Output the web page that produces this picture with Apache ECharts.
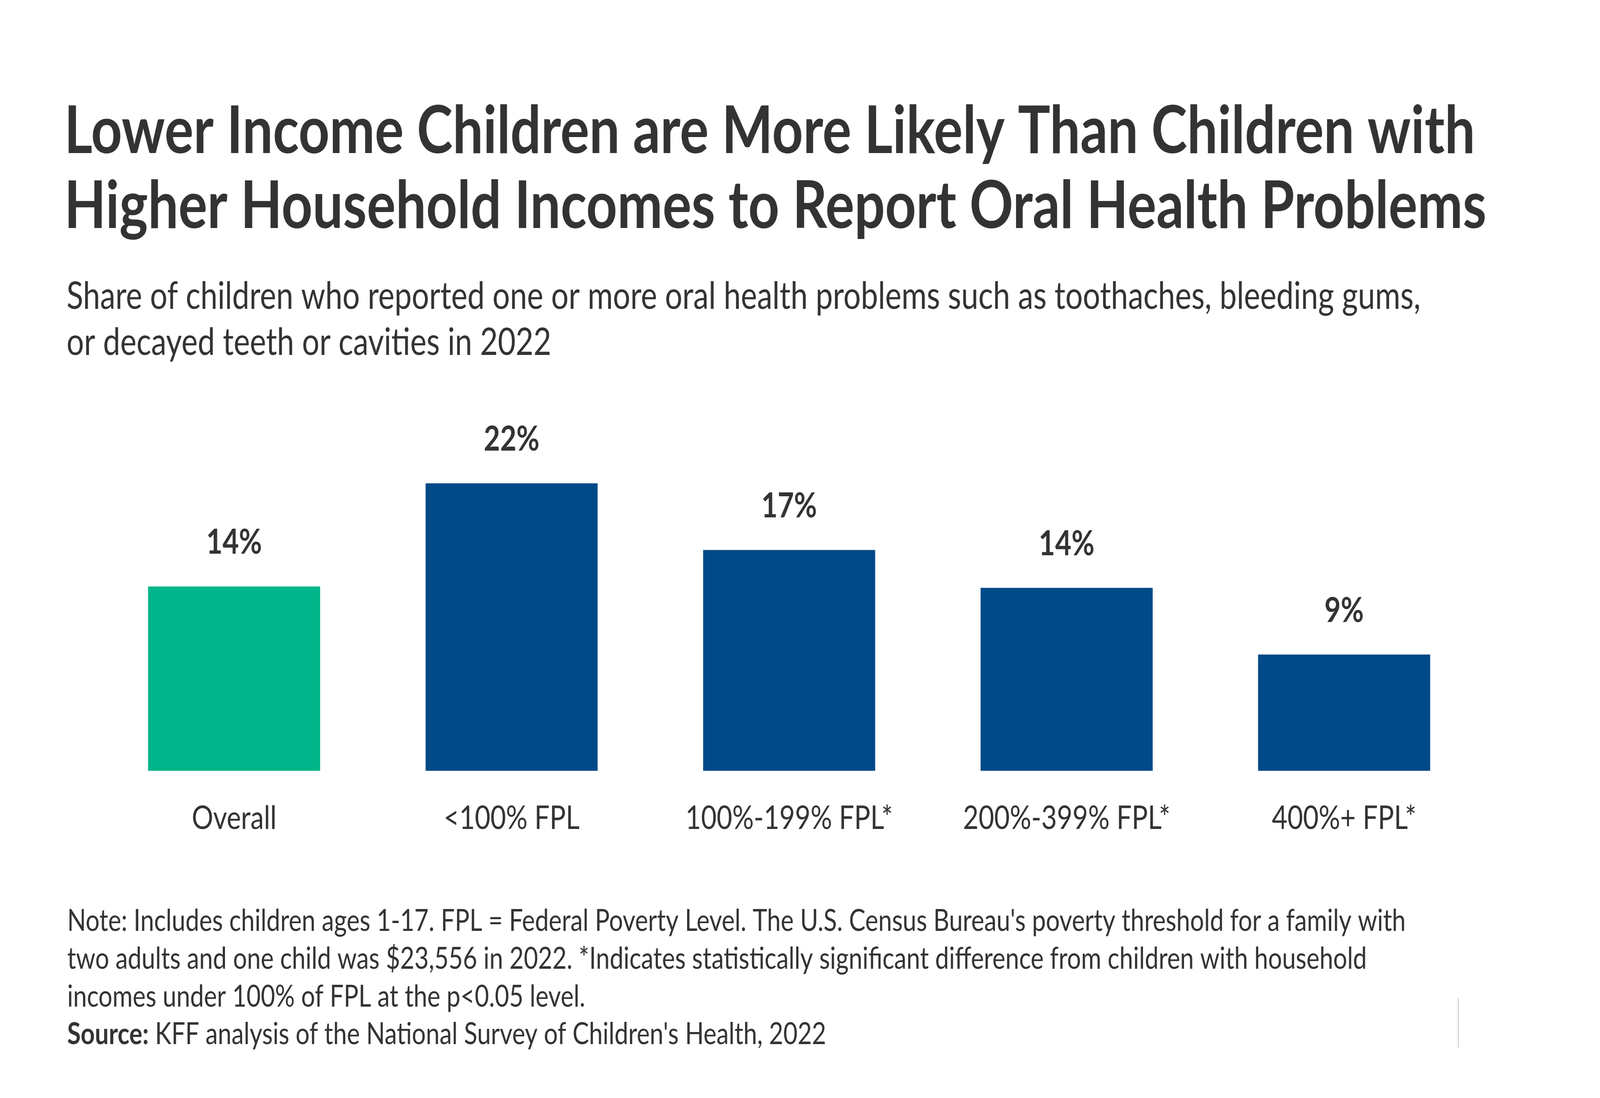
<!DOCTYPE html>
<html>
<head>
<meta charset="utf-8">
<script src="https://cdn.jsdelivr.net/npm/echarts@6/dist/echarts.min.js"></script>
<style>
html,body{margin:0;padding:0;background:#fff;overflow:hidden;}
#chart{width:5000px;height:2812px;transform-origin:0 0;}
</style>
</head>
<body>
<div id="chart"></div>
<script>
const categories = ['Overall', '<100% FPL', '100%-199% FPL*', '200%-399% FPL*', '400%+ FPL*'];
const values = [14.1, 22.0, 16.9, 14.0, 8.9];
const barColors = ['#00b589', '#004a88', '#004a88', '#004a88', '#004a88'];

const titleText = 'Lower Income Children are More Likely Than Children with\nHigher Household Incomes to Report Oral Health Problems';
const subtitleText = 'Share of children who reported one or more oral health problems such as toothaches, bleeding gums,\nor decayed teeth or cavities in 2022';
const noteText = "Note: Includes children ages 1-17. FPL = Federal Poverty Level. The U.S. Census Bureau's poverty threshold for a family with\ntwo adults and one child was $23,556 in 2022. *Indicates statistically significant difference from children with household\nincomes under 100% of FPL at the p<0.05 level.";
const sourceText = "{b|Source:} KFF analysis of the National Survey of Children's Health, 2022";

const FONT = 'Lato';
const el = document.getElementById('chart');
// The viewport may be narrower than 5000px; stretch the 5000x2812 drawing to fill it.
const sx = Math.min(1, window.innerWidth / 5000);
const sy = Math.min(1, window.innerHeight / 2812);
el.style.transform = 'scale(' + sx + ',' + sy + ')';

const chart = echarts.init(el);
chart.setOption({
  backgroundColor: '#ffffff',
  animation: false,
  title: [
    { text: titleText, left: 196, top: 236,
      textStyle: { fontFamily: FONT, fontWeight: 'bold', fontSize: 169, lineHeight: 192, color: '#333333' } },
    { text: subtitleText, left: 203, top: 696,
      textStyle: { fontFamily: FONT, fontWeight: 'normal', fontSize: 96, lineHeight: 118, color: '#333333' } },
    { text: noteText, left: 205, top: 2306,
      textStyle: { fontFamily: FONT, fontWeight: 'normal', fontSize: 77, lineHeight: 97, color: '#333333' } },
    { text: sourceText, left: 205, top: 2596,
      textStyle: { fontFamily: FONT, fontWeight: 'normal', fontSize: 77, lineHeight: 97, color: '#333333',
        rich: { b: { fontFamily: FONT, fontWeight: 'bold', fontSize: 77, lineHeight: 97, color: '#333333' } } } }
  ],
  grid: { left: 298, right: 366, top: 970, bottom: 2812 - 1974, containLabel: false },
  xAxis: {
    type: 'category', data: categories,
    axisLine: { show: false }, axisTick: { show: false },
    axisLabel: { fontFamily: FONT, fontSize: 84, color: '#333333', margin: 80, interval: 0 }
  },
  yAxis: { type: 'value', min: 0, max: 30, show: false, splitLine: { show: false } },
  series: [{
    type: 'bar', data: values.map((v, i) => ({ value: v, itemStyle: { color: barColors[i] } })),
    barCategoryGap: '38%',
    label: { show: true, position: 'top', distance: 68, fontFamily: FONT, fontWeight: 'bold', fontSize: 88, color: '#333333',
      formatter: p => Math.round(p.value) + '%' }
  }],
  graphic: [{ type: 'line', shape: { x1: 4557, y1: 2556, x2: 4557, y2: 2684 }, style: { stroke: '#d0d0d0', lineWidth: 3 } }]
});
</script>
</body>
</html>
